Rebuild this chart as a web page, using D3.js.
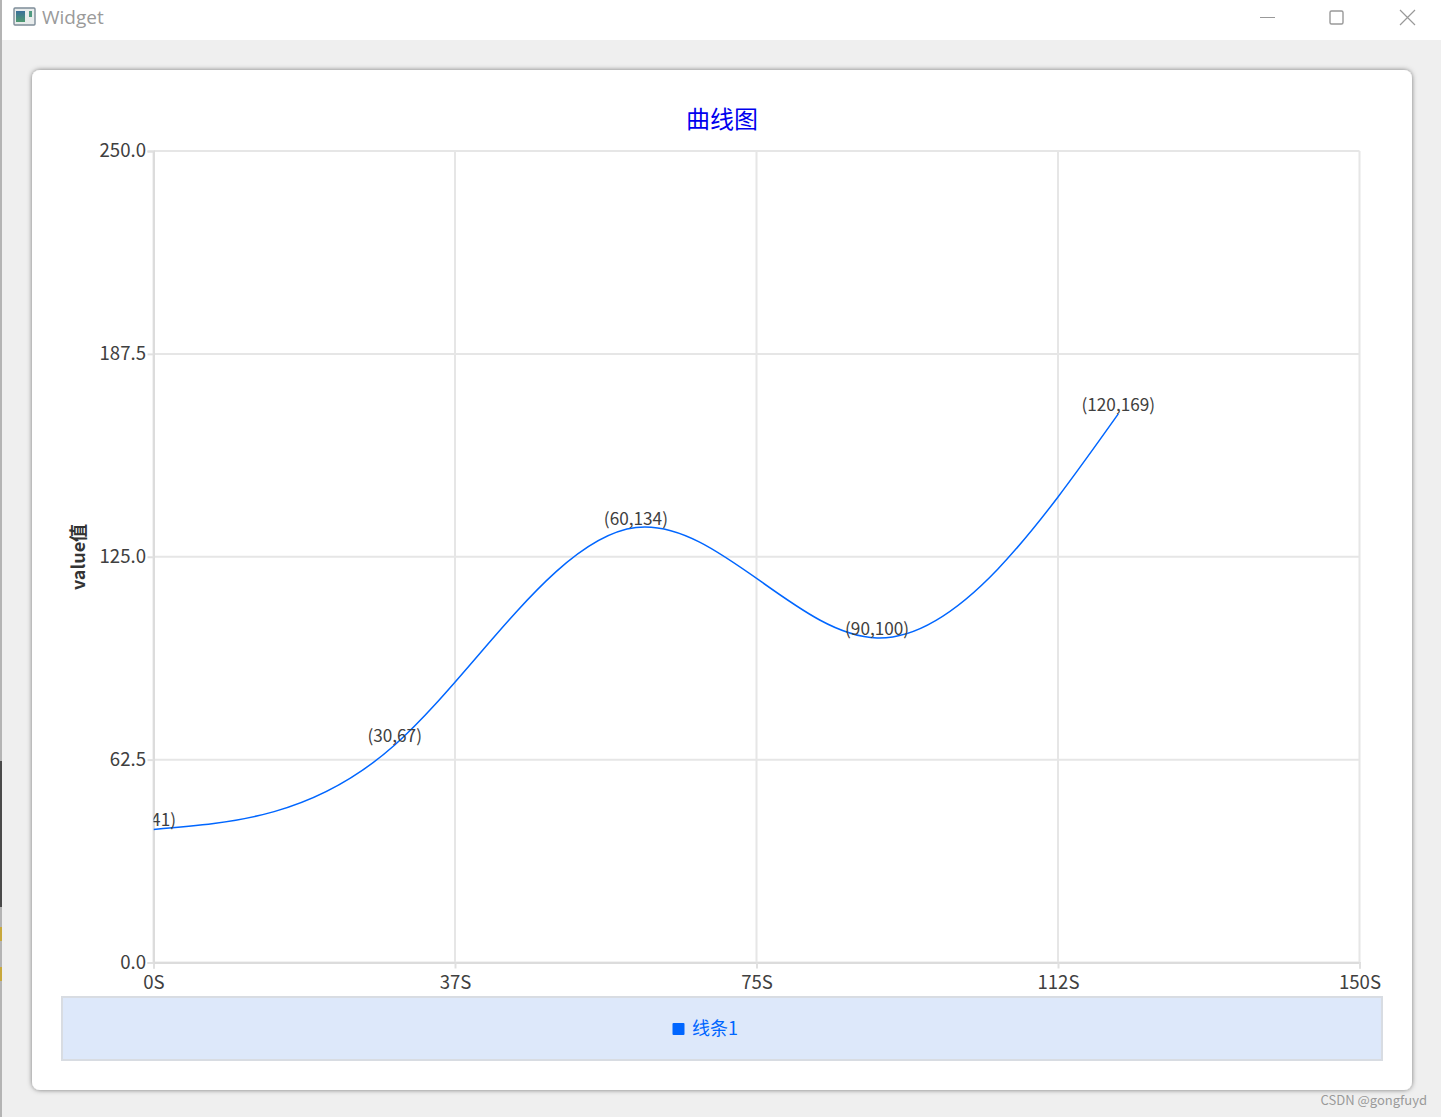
<!DOCTYPE html>
<html>
<head>
<meta charset="utf-8">
<title>Widget</title>
<script src="https://d3js.org/d3.v7.min.js"></script>
<style>
html, body { margin: 0; padding: 0; background: #efefef; overflow: hidden; }
text { font-family: "Noto Sans CJK SC", "Noto Sans", sans-serif; }
.tick text { fill: #404040; }
.tick line { stroke: #e0e0e0; stroke-width: 2px; }
.grid line { stroke: #e6e6e6; stroke-width: 2px; }
.label { font-size: 17.2px; fill: #404040; text-anchor: middle; }
</style>
</head>
<body>
<div id="chart"></div>
<script>
const times = [0, 30, 60, 90, 120];
const values = [41, 67, 134, 100, 169];
const xTicks = [0, 37.5, 75, 112.5, 150];
const xLabels = ['0S', '37S', '75S', '112S', '150S'];
const yTicks = [0, 62.5, 125, 187.5, 250];
const yLabels = ['0.0', '62.5', '125.0', '187.5', '250.0'];
const seriesName = '线条1';
const title = '曲线图';
const yTitle = 'value值';

const svg = d3.select('#chart').append('svg')
    .attr('width', 1441)
    .attr('height', 1117)
    .style('display', 'block');

// window frame
const defs = svg.append('defs');
const shadow = defs.append('filter').attr('id', 'shadow')
    .attr('x', '-5%').attr('y', '-5%').attr('width', '110%').attr('height', '110%');
shadow.append('feDropShadow')
    .attr('dx', 0).attr('dy', 0).attr('stdDeviation', 2.4)
    .attr('flood-color', '#000').attr('flood-opacity', 0.5);

const iconGrad = defs.append('linearGradient').attr('id', 'icon-grad')
    .attr('x1', 0).attr('y1', 0).attr('x2', 0).attr('y2', 1);
iconGrad.append('stop').attr('offset', 0).attr('stop-color', '#3a6f9a');
iconGrad.append('stop').attr('offset', 1).attr('stop-color', '#4f9a70');

svg.append('rect').attr('width', 1441).attr('height', 1117).attr('fill', '#efefef');
svg.append('rect').attr('width', 1441).attr('height', 40).attr('fill', '#ffffff');
svg.append('rect').attr('y', 0).attr('width', 2).attr('height', 1117).attr('fill', '#b4b4b4');
svg.append('rect').attr('y', 761).attr('width', 2).attr('height', 146).attr('fill', '#4a4a4a');
svg.append('rect').attr('y', 927).attr('width', 2).attr('height', 14).attr('fill', '#c8a83c');
svg.append('rect').attr('y', 967).attr('width', 2).attr('height', 14).attr('fill', '#c8a83c');

// app icon
svg.append('rect').attr('x', 14).attr('y', 8).attr('width', 21).attr('height', 17).attr('rx', 1)
    .attr('fill', '#e8ecec').attr('stroke', '#7d8c98').attr('stroke-width', 1.4);
svg.append('rect').attr('x', 16).attr('y', 11).attr('width', 9).attr('height', 11).attr('fill', 'url(#icon-grad)');
svg.append('rect').attr('x', 29).attr('y', 11).attr('width', 3).attr('height', 6).attr('fill', '#4f9a80');
svg.append('text').attr('x', 42).attr('y', 24).attr('font-size', 19).attr('fill', '#9a9a9a')
    .style('font-family', '"Open Sans", sans-serif').text('Widget');

// window buttons
svg.append('line').attr('x1', 1260).attr('x2', 1275).attr('y1', 17.5).attr('y2', 17.5)
    .attr('stroke', '#999').attr('stroke-width', 1);
svg.append('rect').attr('x', 1330).attr('y', 11).attr('width', 13).attr('height', 13).attr('rx', 1.5)
    .attr('fill', 'none').attr('stroke', '#999').attr('stroke-width', 1.4);
svg.append('path').attr('d', 'M1400,10L1415,25M1415,10L1400,25')
    .attr('fill', 'none').attr('stroke', '#999').attr('stroke-width', 1.2);

// card
svg.append('rect').attr('x', 32).attr('y', 70).attr('width', 1380).attr('height', 1020).attr('rx', 8)
    .attr('fill', '#ffffff').attr('filter', 'url(#shadow)');

svg.append('text').attr('x', 722).attr('y', 127.5).attr('text-anchor', 'middle')
    .attr('font-size', 24).attr('fill', '#0000ee').text(title);

// plot
const x = d3.scaleLinear().domain([0, 150]).range([153.5, 1359.5]);
const y = d3.scaleLinear().domain([0, 250]).range([962.5, 151]);

svg.append('g').attr('class', 'grid').selectAll('line').data(yTicks).enter().append('line')
    .attr('x1', x(0)).attr('x2', x(150)).attr('y1', d => y(d)).attr('y2', d => y(d));
svg.append('g').attr('class', 'grid').selectAll('line').data(xTicks).enter().append('line')
    .attr('x1', d => x(d)).attr('x2', d => x(d)).attr('y1', y(250)).attr('y2', y(0));

const xAxis = d3.axisBottom(x).tickValues(xTicks).tickSize(6).tickPadding(7)
    .tickFormat((d, i) => xLabels[i]);
const yAxis = d3.axisLeft(y).tickValues(yTicks).tickSize(6).tickPadding(1.5)
    .tickFormat((d, i) => yLabels[i]);

svg.append('g').attr('transform', `translate(0,${y(0)})`).call(xAxis)
    .call(g => g.select('.domain').attr('stroke', '#dcdcdc').attr('stroke-width', 2));
svg.append('g').attr('transform', `translate(${x(0)},0)`).call(yAxis)
    .call(g => g.select('.domain').attr('stroke', '#dcdcdc').attr('stroke-width', 2));

svg.selectAll('.tick text').style('font-family', '"Noto Sans CJK SC", sans-serif').style('font-size', '18.6px');

svg.append('text')
    .attr('transform', `translate(85,557) rotate(-90)`)
    .attr('text-anchor', 'middle')
    .attr('font-size', 18).attr('font-weight', 'bold').attr('fill', '#333333')
    .text(yTitle);

defs.append('clipPath').attr('id', 'plot-clip').append('rect')
    .attr('x', x(0)).attr('y', y(250)).attr('width', x(150) - x(0)).attr('height', y(0) - y(250));

const points = times.map((t, i) => [t, values[i]]);
const line = d3.line().x(d => x(d[0])).y(d => y(d[1])).curve(d3.curveNatural);

const plot = svg.append('g').attr('clip-path', 'url(#plot-clip)');
plot.append('path').datum(points)
    .attr('d', line)
    .attr('fill', 'none').attr('stroke', '#0066ff').attr('stroke-width', 1.5);
plot.selectAll('.label').data(points).enter().append('text')
    .attr('class', 'label')
    .attr('x', d => x(d[0]))
    .attr('y', d => y(d[1]) - 3)
    .text(d => `(${d[0]},${d[1]})`);

// legend
svg.append('rect').attr('x', 62).attr('y', 997).attr('width', 1320).attr('height', 63)
    .attr('fill', '#dde8fa').attr('stroke', '#d8dce2').attr('stroke-width', 2);
svg.append('rect').attr('x', 672.5).attr('y', 1023).attr('width', 12).attr('height', 12).attr('rx', 1)
    .attr('fill', '#0066ff');
svg.append('text').attr('x', 692).attr('y', 1035).attr('font-size', 18).attr('fill', '#0066ff').text(seriesName);

svg.append('text').attr('x', 1427).attr('y', 1105).attr('text-anchor', 'end')
    .attr('font-size', 13).attr('fill', '#9a9a9a').text('CSDN @gongfuyd');
</script>
</body>
</html>
